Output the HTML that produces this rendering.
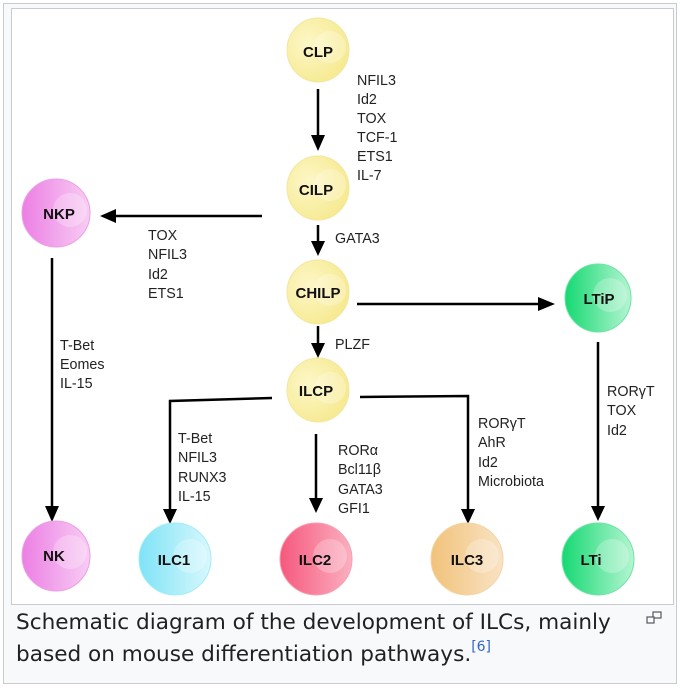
<!DOCTYPE html>
<html><head><meta charset="utf-8"><style>
html,body{margin:0;padding:0;background:#fff;width:682px;height:692px;overflow:hidden}
.outer{position:absolute;left:3px;top:3px;width:674px;height:681px;background:#f8f9fa;border:1px solid #c8ccd1;box-sizing:border-box}
.frame{position:absolute;left:11px;top:8px;width:663px;height:597px;background:#fff;border:1px solid #c8ccd1;box-sizing:border-box}
.cap{position:absolute;left:16px;top:607px;width:625px;font-family:"DejaVu Sans",sans-serif;font-size:21.6px;line-height:32px;color:#202122;white-space:nowrap}
.cap sup{font-size:14px;color:#3366cc;vertical-align:10px;line-height:0}
svg{position:absolute;left:0;top:0}
</style></head><body>
<div class="outer"></div>
<div class="frame"></div>
<svg width="682" height="692" viewBox="0 0 682 692" font-family="Liberation Sans, Arial, sans-serif">
<defs>
<radialGradient id="gy" cx="0.35" cy="0.4" r="0.7"><stop offset="0" stop-color="#fdf7c8"/><stop offset="1" stop-color="#f6e98e"/></radialGradient>
<linearGradient id="gp" x1="0" x2="1"><stop offset="0" stop-color="#ec7fe4"/><stop offset="1" stop-color="#f8cdf4"/></linearGradient>
<linearGradient id="gc" x1="0" x2="1"><stop offset="0" stop-color="#7fe3f6"/><stop offset="1" stop-color="#d8f8fd"/></linearGradient>
<linearGradient id="gr" x1="0" x2="1"><stop offset="0" stop-color="#f5587d"/><stop offset="1" stop-color="#fbb0c0"/></linearGradient>
<linearGradient id="go" x1="0" x2="1"><stop offset="0" stop-color="#f1c27a"/><stop offset="1" stop-color="#f9e3c4"/></linearGradient>
<linearGradient id="gg" x1="0" x2="1"><stop offset="0" stop-color="#15d972"/><stop offset="1" stop-color="#b5f5d2"/></linearGradient>
</defs>
<g stroke="#000" stroke-width="2.5" fill="none">
<path d="M318 89 V138"/><path d="M262 216 H108"/><path d="M318 225 V245"/><path d="M357 304 H548"/>
<path d="M318 326 V346"/><path d="M52 258 V510"/><path d="M272 398 L170 401 V515"/>
<path d="M360 397 L468 396 V515"/><path d="M316 434 V505"/><path d="M598 342 V510"/>
</g>
<g fill="#000">
<path d="M311 135 L325 135 L318 151 z"/>
<path d="M100 216 L116 209 L116 223 z"/>
<path d="M311 241 L325 241 L318 256 z"/>
<path d="M555 304 L538 297 L538 311 z"/>
<path d="M311 343 L325 343 L318 358 z"/>
<path d="M45 506 L59 506 L52 522 z"/>
<path d="M163 509 L177 509 L170 524 z"/>
<path d="M461 509 L475 509 L468 524 z"/>
<path d="M309 498 L323 498 L316 513 z"/>
<path d="M591 506 L605 506 L598 521 z"/>
</g>
<g stroke-width="1">
<ellipse cx="318" cy="50" rx="31" ry="32" fill="url(#gy)" stroke="#f3e7a0"/>
<ellipse cx="318" cy="188" rx="31" ry="32" fill="url(#gy)" stroke="#f3e7a0"/>
<ellipse cx="318" cy="292" rx="31" ry="32" fill="url(#gy)" stroke="#f3e7a0"/>
<ellipse cx="318" cy="390" rx="31" ry="32" fill="url(#gy)" stroke="#f3e7a0"/>
<ellipse cx="56" cy="213" rx="34" ry="34" fill="url(#gp)" stroke="#eaa0e4"/>
<ellipse cx="598" cy="298" rx="33" ry="34" fill="url(#gg)" stroke="#6fe3a4"/>
<ellipse cx="56" cy="556" rx="34" ry="35" fill="url(#gp)" stroke="#eaa0e4"/>
<ellipse cx="175" cy="559" rx="36" ry="36" fill="url(#gc)" stroke="#a0ecf9"/>
<ellipse cx="316" cy="559" rx="36" ry="36" fill="url(#gr)" stroke="#f7a0b4"/>
<ellipse cx="467" cy="559" rx="36" ry="36" fill="url(#go)" stroke="#f3d4a4"/>
<ellipse cx="598" cy="559" rx="36" ry="36" fill="url(#gg)" stroke="#6fe3a4"/>
</g>
<g fill="#fff" opacity="0.25">
<circle cx="330" cy="47" r="16"/><circle cx="330" cy="185" r="16"/><circle cx="330" cy="290" r="16"/><circle cx="330" cy="388" r="16"/>
<circle cx="70" cy="210" r="17"/><circle cx="610" cy="295" r="17"/><circle cx="70" cy="552" r="17"/><circle cx="190" cy="556" r="17"/><circle cx="330" cy="556" r="17"/><circle cx="482" cy="556" r="17"/><circle cx="612" cy="556" r="17"/>
</g>
<g font-weight="bold" font-size="15" text-anchor="middle" fill="#111">
<text x="318" y="57">CLP</text><text x="316" y="195">CILP</text><text x="318" y="298">CHILP</text><text x="316" y="396">ILCP</text>
<text x="59" y="219">NKP</text><text x="599" y="304">LTiP</text>
<text x="54" y="561">NK</text><text x="174" y="565">ILC1</text><text x="315" y="565">ILC2</text><text x="467" y="565">ILC3</text><text x="591" y="565">LTi</text>
</g>
<g font-size="14.3" fill="#222">
<text x="357" y="85">NFIL3</text><text x="357" y="104">Id2</text><text x="357" y="123">TOX</text><text x="357" y="142">TCF-1</text><text x="357" y="161">ETS1</text><text x="357" y="180">IL-7</text>
<text x="148" y="240">TOX</text><text x="148" y="259">NFIL3</text><text x="148" y="279">Id2</text><text x="148" y="298">ETS1</text>
<text x="335" y="243">GATA3</text><text x="335" y="349">PLZF</text>
<text x="60" y="350">T-Bet</text><text x="60" y="369">Eomes</text><text x="60" y="388">IL-15</text>
<text x="178" y="443">T-Bet</text><text x="178" y="462">NFIL3</text><text x="178" y="482">RUNX3</text><text x="178" y="501">IL-15</text>
<text x="338" y="455">RORα</text><text x="338" y="474">Bcl11β</text><text x="338" y="494">GATA3</text><text x="338" y="513">GFI1</text>
<text x="478" y="428">RORγT</text><text x="478" y="447">AhR</text><text x="478" y="467">Id2</text><text x="478" y="486">Microbiota</text>
<text x="607" y="396">RORγT</text><text x="607" y="415">TOX</text><text x="607" y="435">Id2</text>
</g>
<g fill="none" stroke="#54595d" stroke-width="1.2">
<rect x="653" y="612" width="8" height="6"/><rect x="647" y="617" width="7" height="6" fill="#f8f9fa"/>
</g>
</svg>
<div class="cap">Schematic diagram of the development of ILCs, mainly<br>based on mouse differentiation pathways.<sup>[6]</sup></div>
</body></html>
